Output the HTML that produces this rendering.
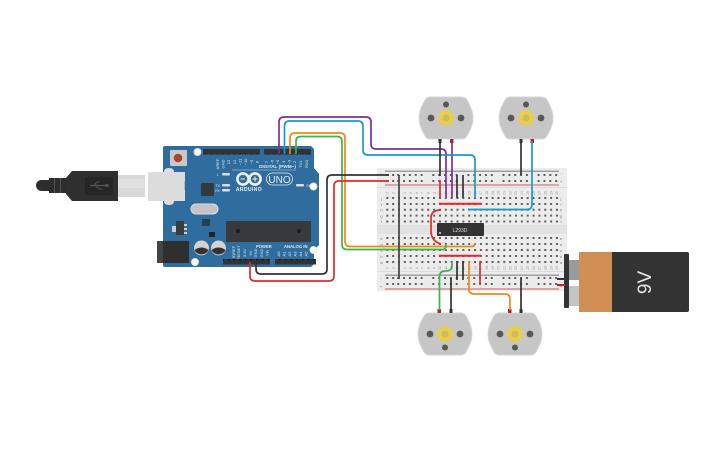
<!DOCTYPE html>
<html>
<head>
<meta charset="utf-8">
<style>
html,body{margin:0;padding:0;background:#fff;width:725px;height:453px;overflow:hidden}
svg{display:block;font-family:"Liberation Sans",sans-serif}
</style>
</head>
<body>
<svg width="725" height="453" viewBox="0 0 725 453" xmlns="http://www.w3.org/2000/svg">
<defs>
<pattern id="hd" x="203" y="0" width="5.7" height="8" patternUnits="userSpaceOnUse"><rect width="5.7" height="8" fill="#333"/><rect x="2" y="1.5" width="1.6" height="3" fill="#111"/></pattern>
<g id="motor">
<path d="M-16,-21 H16 Q20,-21 22,-16 C25.500,-10 27,-5 27,0 C27,5 25.500,10 22,16 Q20,21 16,21 H-16 Q-20,21 -22,16 C-25.500,10 -27,5 -27,0 C-27,-5 -25.500,-10 -22,-16 Q-20,-21 -16,-21 Z" fill="#c6c6c6" stroke="#d6d6d6" stroke-width="1" stroke-linejoin="round"/>
<circle cx="-15" cy="0" r="3.400" fill="#585858"/><circle cx="15" cy="0" r="3.400" fill="#585858"/>
<circle cx="0" cy="-13.500" r="3" fill="#585858"/>
<circle cx="0" cy="0" r="6.600" fill="none" stroke="#ecd03a" stroke-width="3.200" stroke-dasharray="2.400 1.200"/>
<circle cx="0" cy="0" r="6" fill="#ecd03a"/>
<circle cx="0" cy="0" r="3.600" fill="#c9bb6e"/>
</g>
<g id="nums" font-size="3.600" fill="#999" text-anchor="middle">
<text transform="translate(388.500,0) rotate(-90)">1</text><text transform="translate(394.400,0) rotate(-90)">2</text><text transform="translate(400.200,0) rotate(-90)">3</text><text transform="translate(406.100,0) rotate(-90)">4</text><text transform="translate(411.900,0) rotate(-90)">5</text><text transform="translate(417.800,0) rotate(-90)">6</text><text transform="translate(423.600,0) rotate(-90)">7</text><text transform="translate(429.500,0) rotate(-90)">8</text><text transform="translate(435.300,0) rotate(-90)">9</text><text transform="translate(441.200,0) rotate(-90)">10</text><text transform="translate(447,0) rotate(-90)">11</text><text transform="translate(452.900,0) rotate(-90)">12</text><text transform="translate(458.700,0) rotate(-90)">13</text><text transform="translate(464.600,0) rotate(-90)">14</text><text transform="translate(470.400,0) rotate(-90)">15</text><text transform="translate(476.300,0) rotate(-90)">16</text><text transform="translate(482.100,0) rotate(-90)">17</text><text transform="translate(488,0) rotate(-90)">18</text><text transform="translate(493.800,0) rotate(-90)">19</text><text transform="translate(499.700,0) rotate(-90)">20</text><text transform="translate(505.500,0) rotate(-90)">21</text><text transform="translate(511.400,0) rotate(-90)">22</text><text transform="translate(517.200,0) rotate(-90)">23</text><text transform="translate(523.100,0) rotate(-90)">24</text><text transform="translate(528.900,0) rotate(-90)">25</text><text transform="translate(534.800,0) rotate(-90)">26</text><text transform="translate(540.600,0) rotate(-90)">27</text><text transform="translate(546.500,0) rotate(-90)">28</text><text transform="translate(552.300,0) rotate(-90)">29</text><text transform="translate(558.200,0) rotate(-90)">30</text>
</g>
</defs>

<!-- USB -->
<rect x="36" y="180" width="20" height="11" rx="5.500" fill="#2d2d2d"/>
<rect x="49" y="178" width="18" height="15" fill="#2d2d2d"/>
<rect x="54" y="178" width="1" height="15" fill="#555"/><rect x="60" y="178" width="1" height="15" fill="#555"/>
<path d="M66,178 L72,171 H118 V201 H72 L66,194 Z" fill="#2f2f2f"/>
<rect x="85" y="177" width="28" height="18" fill="#262626"/>
<path d="M90,185.500 H107" stroke="#555" stroke-width="1.200"/><circle cx="107" cy="185.500" r="1.800" fill="#555"/><path d="M94,185 L97,182 H100 M96,186 L99,189 H102" stroke="#555" fill="none"/>
<rect x="118" y="175" width="27" height="22" fill="#d9d9d9"/>
<rect x="118" y="179" width="27" height="9" fill="#e0e0e0"/>

<!-- Arduino board -->
<path d="M165,146 H311 L314,149 V168 L319,174 V245 L314,250 V264 L311,267 H165 Q163,267 163,265 V148 Q163,146 165,146 Z" fill="#2f6d9e"/>
<rect x="148" y="172" width="37" height="29" fill="#dcdcdc"/>
<rect x="184" y="181" width="1" height="9" fill="#bbb"/>
<path d="M164,172 q0,-4 5,-4 q5,0 5,4 Z M164,201 q0,4 5,4 q5,0 5,-4 Z" fill="#dcdcdc"/>
<rect x="170" y="150" width="17" height="16" rx="1" fill="#c9c9c9"/>
<circle cx="178" cy="158" r="4.300" fill="#a8452f"/>
<circle cx="197.500" cy="152" r="3.500" fill="#fff" stroke="#e6e0c8"/>
<circle cx="313.500" cy="186.500" r="3.500" fill="#fff" stroke="#e6e0c8"/>
<circle cx="313.500" cy="250" r="3.500" fill="#fff" stroke="#e6e0c8"/>
<circle cx="195" cy="262" r="3.500" fill="#fff" stroke="#e6e0c8"/>
<rect x="203" y="149" width="57" height="5.500" fill="url(#hd)"/>
<rect x="264" y="149" width="47" height="5.500" fill="url(#hd)"/>
<rect x="223" y="259" width="47" height="5.500" fill="url(#hd)"/>
<rect x="275" y="259" width="41" height="5.500" fill="url(#hd)"/>
<rect x="201" y="183" width="13" height="13" rx="1" fill="#33393f"/>
<rect x="191" y="204" width="27" height="10" rx="5" fill="#c4c4c4" stroke="#ddd"/>
<rect x="202" y="219" width="8" height="7" fill="#27404f"/>
<rect x="226" y="221" width="85" height="21" fill="#38393b"/>
<circle cx="238" cy="231" r="2" fill="#1c1c1c"/><circle cx="299" cy="231" r="2" fill="#1c1c1c"/>
<rect x="176" y="221" width="8" height="14" fill="#3b3b3b"/>
<rect x="172" y="226" width="4" height="6" fill="#ccc"/>
<rect x="184" y="224" width="3" height="2" fill="#ccc"/><rect x="184" y="228" width="3" height="2" fill="#ccc"/><rect x="184" y="232" width="3" height="2" fill="#ccc"/>
<rect x="209" y="232" width="6" height="5" fill="#222"/>
<rect x="157" y="241" width="32" height="22" rx="1" fill="#2f2f2f"/>
<rect x="157" y="241" width="6" height="22" fill="#454545"/>
<circle cx="201.500" cy="248" r="7.500" fill="#d2d2d2"/><path d="M194.500,250 a7.500,7 0 0 0 14,0 q-7,-5 -14,0Z" fill="#333"/>
<circle cx="218.500" cy="248" r="7.500" fill="#d2d2d2"/><path d="M211.500,250 a7.500,7 0 0 0 14,0 q-7,-5 -14,0Z" fill="#333"/>
<rect x="222" y="173" width="8" height="2.500" rx="1" fill="#ddd"/>
<rect x="222" y="184" width="8" height="2.500" rx="1" fill="#ddd"/>
<rect x="222" y="189" width="8" height="2.500" rx="1" fill="#ddd"/>
<rect x="296" y="184" width="8" height="2.500" rx="1" fill="#ddd"/>
<text x="219" y="176" font-size="3.500" fill="#dfe8ee" text-anchor="end">L</text>
<text x="220" y="187" font-size="3.500" fill="#dfe8ee" text-anchor="end">TX</text>
<text x="220" y="192" font-size="3.500" fill="#dfe8ee" text-anchor="end">RX</text>
<text x="306" y="187" font-size="3.500" fill="#dfe8ee">ON</text>
<g fill="none" stroke="#f0f0f0" stroke-width="2.600"><circle cx="243" cy="179" r="5.600"/><circle cx="255" cy="179" r="5.600"/></g>
<path d="M240.500,179 H245 M252.500,179 H257.500 M255,176.500 V181.500" stroke="#f0f0f0" stroke-width="1"/>
<text x="249" y="191" font-size="5" font-weight="bold" fill="#eef2f5" text-anchor="middle" letter-spacing=".4">ARDUINO</text>
<rect x="266.500" y="173" width="26" height="12" rx="6" fill="none" stroke="#e6edf2" stroke-width=".8"/>
<text x="279.500" y="183" font-size="10" fill="#e6edf2" text-anchor="middle">UNO</text>
<text x="259" y="168" font-size="4.800" font-weight="bold" fill="#dfe8ee" textLength="37">DIGITAL (PWM~)</text>
<path d="M232,170 H296" stroke="#c8d8e4" stroke-width=".5"/>
<g font-size="4" fill="#e4ecf1">
<text transform="translate(219,164) rotate(-90)" text-anchor="middle">AREF</text>
<text transform="translate(224.500,164) rotate(-90)" text-anchor="middle">GND</text>
<text transform="translate(230,162) rotate(-90)" text-anchor="middle">13</text>
<text transform="translate(236,162) rotate(-90)" text-anchor="middle">12</text>
<text transform="translate(241.500,162) rotate(-90)" text-anchor="middle">~11</text>
<text transform="translate(247,162) rotate(-90)" text-anchor="middle">~10</text>
<text transform="translate(253,162) rotate(-90)" text-anchor="middle">~9</text>
<text transform="translate(258.500,162) rotate(-90)" text-anchor="middle">8</text>
<text transform="translate(268,162) rotate(-90)" text-anchor="middle">7</text>
<text transform="translate(273.500,162) rotate(-90)" text-anchor="middle">~6</text>
<text transform="translate(279,162) rotate(-90)" text-anchor="middle">~5</text>
<text transform="translate(285,162) rotate(-90)" text-anchor="middle">4</text>
<text transform="translate(290.500,162) rotate(-90)" text-anchor="middle">~3</text>
<text transform="translate(296,162) rotate(-90)" text-anchor="middle">2</text>
<text transform="translate(302,164) rotate(-90)" text-anchor="middle">TX1</text>
<text transform="translate(308,164) rotate(-90)" text-anchor="middle">RX0</text>
<text transform="translate(235,252) rotate(-90)" text-anchor="middle">IOREF</text>
<text transform="translate(240,252) rotate(-90)" text-anchor="middle">RESET</text>
<text transform="translate(246,253) rotate(-90)" text-anchor="middle">3.3V</text>
<text transform="translate(252,253) rotate(-90)" text-anchor="middle">5V</text>
<text transform="translate(257,253) rotate(-90)" text-anchor="middle">GND</text>
<text transform="translate(263,253) rotate(-90)" text-anchor="middle">GND</text>
<text transform="translate(268.500,253) rotate(-90)" text-anchor="middle">Vin</text>
<text transform="translate(280,254) rotate(-90)" text-anchor="middle">A0</text>
<text transform="translate(285.500,254) rotate(-90)" text-anchor="middle">A1</text>
<text transform="translate(291,254) rotate(-90)" text-anchor="middle">A2</text>
<text transform="translate(296.500,254) rotate(-90)" text-anchor="middle">A3</text>
<text transform="translate(302,254) rotate(-90)" text-anchor="middle">A4</text>
<text transform="translate(307.500,254) rotate(-90)" text-anchor="middle">A5</text>
</g>
<text x="256" y="248" font-size="4.200" font-weight="bold" fill="#dfe8ee">POWER</text>
<text x="284" y="248" font-size="4.200" font-weight="bold" fill="#dfe8ee">ANALOG IN</text>

<!-- Breadboard -->
<rect x="377" y="168" width="190" height="123" rx="1" fill="#ececec"/>
<rect x="377" y="187" width="190" height="1" fill="#dcdcdc"/>
<rect x="377" y="271" width="190" height="1" fill="#dcdcdc"/>
<rect x="377" y="225" width="190" height="9" fill="#e2e2e2"/>
<rect x="385" y="170.500" width="174" height="1.500" fill="#a0a0a0"/>
<rect x="385" y="184" width="174" height="2" fill="#d9a6a6"/>
<rect x="385" y="274.500" width="174" height="1.500" fill="#a0a0a0"/>
<rect x="385" y="288" width="174" height="2" fill="#d9a6a6"/>
<g stroke="#606060" stroke-width="2" fill="none">
<g stroke-dasharray="2 3.850">
<path d="M386.300,198 H558 M386.300,204 H558 M386.300,209.800 H558 M386.300,215.600 H558 M386.300,221.500 H558"/>
<path d="M386.300,238 H558 M386.300,244 H558 M386.300,250 H558 M386.300,256 H558 M386.300,262 H558"/>
<path d="M386.300,175 H396 M386.300,181 H396 M386.300,278 H396 M386.300,284 H396"/>
</g>
<g stroke-dasharray="2 3.850 2 3.850 2 3.850 2 3.850 2 9.700">
<path d="M397.200,175 H558 M397.200,181 H558 M397.200,278 H558 M397.200,284 H558"/>
</g>
</g>
<use href="#nums" x="0" y="193"/>
<use href="#nums" x="0" y="268"/>
<g font-size="4" fill="#777" text-anchor="middle">
<text x="381" y="174">-</text><text x="381" y="183" fill="#c33">+</text>
<text x="561" y="174">-</text><text x="561" y="183" fill="#c33">+</text>
<text x="381" y="279">-</text><text x="381" y="288" fill="#c33">+</text>
<text x="561" y="279">-</text><text x="561" y="288" fill="#c33">+</text>
<text x="381.500" y="200">j</text><text x="381.500" y="206">i</text><text x="381.500" y="211.500">h</text><text x="381.500" y="217.500">g</text><text x="381.500" y="223">f</text>
<text x="381.500" y="240">e</text><text x="381.500" y="246">d</text><text x="381.500" y="252">c</text><text x="381.500" y="258">b</text><text x="381.500" y="264">a</text>
<text x="561" y="200">j</text><text x="561" y="206">i</text><text x="561" y="211.500">h</text><text x="561" y="217.500">g</text><text x="561" y="223">f</text>
<text x="561" y="240">e</text><text x="561" y="246">d</text><text x="561" y="252">c</text><text x="561" y="258">b</text><text x="561" y="264">a</text>
</g>

<!-- L293D -->
<rect x="437" y="223" width="47" height="13" rx="1" fill="#333"/>
<text x="460" y="232" font-size="5" fill="#ddd" text-anchor="middle">L293D</text>
<circle cx="440" cy="233" r="1" fill="#ddd"/>

<!-- Motors -->
<use href="#motor" x="446" y="118"/>
<use href="#motor" x="526" y="118"/>
<g transform="translate(445 334) rotate(180)"><use href="#motor"/></g>
<g transform="translate(515 334) rotate(180)"><use href="#motor"/></g>
<g>
<rect x="438.500" y="139" width="3" height="4" fill="#333"/><rect x="450" y="139" width="3.500" height="4" fill="#b22"/>
<rect x="519.500" y="139" width="3" height="4" fill="#333"/><rect x="530.500" y="139" width="3.500" height="4" fill="#b22"/>
<rect x="437.500" y="309" width="3.500" height="4" fill="#b22"/><rect x="449.500" y="309" width="3" height="4" fill="#333"/>
<rect x="508" y="309" width="3.500" height="4" fill="#b22"/><rect x="519.500" y="309" width="3" height="4" fill="#333"/>
</g>

<!-- Battery -->
<rect x="569" y="260" width="10" height="20" fill="#9a9a9a"/>
<rect x="569" y="286" width="10" height="20" rx="1" fill="#c4c4c4"/>
<rect x="564" y="254" width="5" height="54" rx="1" fill="#333"/>
<rect x="579" y="252" width="33" height="60" fill="#cf8f52"/>
<path d="M612,252 H687 Q689,252 689,254 V310 Q689,312 687,312 H612 Z" fill="#333"/>
<text transform="translate(651,282.500) rotate(-90)" font-size="19" fill="#e6e6e6" text-anchor="middle">9V</text>

<!-- Wires -->
<g fill="none" stroke-width="1.700" stroke-linejoin="round">
<path d="M279,154 V122 Q279,117 284,117 H366 Q371,117 371,122 V144 Q371,149 376,149 H441 Q446,149 446,154 V197" stroke="#7b2f9b"/>
<path d="M452,141 V198" stroke="#7b2f9b"/>
<path d="M284.500,154 V126 Q284.500,121 289.500,121 H358 Q363,121 363,126 V150 Q363,155 368,155 H470 Q475,155 475,160 V198" stroke="#1a9ac9"/>
<path d="M290,154 V138 Q290,133 295,133 H340 Q345,133 345,138 V241 Q345,246.500 350,246.500 H471 Q475,246.500 475,243" stroke="#ef8a10"/>
<path d="M296,154 V141.500 Q296,136.500 301,136.500 H337 Q342,136.500 342,141.500 V244.500 Q342,249.500 347,249.500 H443 Q446,249.500 446,244" stroke="#3cb54a"/>
<path d="M256,262 V269 Q256,274 261,274 H322 Q327,274 327,269 V180 Q327,175 332,175 H389" stroke="#333"/>
<path d="M250,262 V276 Q250,281 255,281 H329 Q334,281 334,276 V186 Q334,181 339,181 H389" stroke="#e02b2b"/>
<path d="M440,141 V176" stroke="#333"/>
<path d="M440,180 V198" stroke="#e02b2b"/>
<path d="M457,175 V198 M463,175 V198" stroke="#333"/>
<path d="M521,141 V175" stroke="#333"/>
<path d="M532,141 V204.500 Q532,209.500 527,209.500 H468" stroke="#1a9ac9"/>
<path d="M399,175 V279" stroke="#444"/>
<path d="M441,210 Q431,210 431,218 V231 Q431,241 441,244" stroke="#e02b2b"/>
<path d="M452,262 V265 Q452,271 446,271 H445 Q439.500,271 439.500,277 V310" stroke="#3cb54a"/>
<path d="M451,278 V310" stroke="#333"/>
<path d="M457,261 V280 M463,261 V280" stroke="#333"/>
<path d="M469,261 V289 Q469,294 474,294 H505 Q510,294 510,299 V310" stroke="#ef8a10"/>
<path d="M480,261 V285" stroke="#e02b2b"/>
<path d="M521,278 V310" stroke="#333"/>
<path d="M557,279 H565" stroke="#333" stroke-width="2"/>
<path d="M557,285 H565" stroke="#c22" stroke-width="2"/>
<path d="M439,203.700 H481 M439,255.700 H481" stroke="#e02b2b" stroke-width="2"/>
</g>
</svg>
</body>
</html>
